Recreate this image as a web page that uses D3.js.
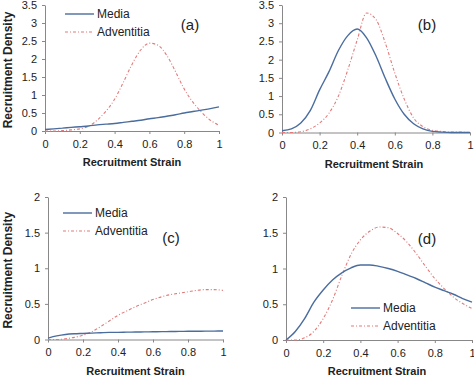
<!doctype html>
<html>
<head>
<meta charset="UTF-8">
<title>Recruitment Density</title>
<script src="https://d3js.org/d3.v7.min.js"></script>
<style>
  body { margin: 0; background: #fff; }
  text { font-family: "Liberation Sans", Arial, sans-serif; fill: #222; }
  .domain { stroke: #888; }
  .tick line { stroke: #888; }
</style>
</head>
<body>
<script>
// strain values (x) shared by all panels
var strain = [0, 0.05, 0.1, 0.15, 0.2, 0.25, 0.3, 0.35, 0.4, 0.45, 0.5,
              0.55, 0.6, 0.65, 0.7, 0.75, 0.8, 0.85, 0.9, 0.95, 1];

var mediaA = [0.04, 0.06, 0.08, 0.10, 0.12, 0.14, 0.17, 0.19, 0.21, 0.24, 0.27,
              0.30, 0.34, 0.37, 0.41, 0.45, 0.50, 0.54, 0.58, 0.62, 0.67];
var adventA = [0, 0, 0.01, 0.03, 0.06, 0.13, 0.30, 0.55, 0.88, 1.35, 1.85,
               2.25, 2.44, 2.38, 2.10, 1.65, 1.17, 0.80, 0.52, 0.30, 0.16];

var mediaB = [0.05, 0.10, 0.26, 0.60, 1.17, 1.67, 2.25, 2.66, 2.84, 2.60, 2.10,
              1.48, 0.92, 0.50, 0.24, 0.10, 0.03, 0.01, 0, 0, 0];
var adventB = [0, 0, 0.02, 0.10, 0.26, 0.53, 1.00, 1.72, 2.54, 3.28, 3.10,
               2.45, 1.63, 0.92, 0.40, 0.16, 0.06, 0.03, 0.01, 0.01, 0];

var mediaC = [0.02, 0.05, 0.07, 0.08, 0.085, 0.09, 0.095, 0.10, 0.10, 0.103, 0.105,
              0.107, 0.108, 0.11, 0.112, 0.114, 0.115, 0.116, 0.117, 0.118, 0.12];
var adventC = [0, 0, 0.01, 0.03, 0.06, 0.11, 0.18, 0.26, 0.34, 0.40, 0.46,
               0.51, 0.56, 0.60, 0.63, 0.65, 0.67, 0.69, 0.70, 0.70, 0.69];

var mediaD = [0, 0.12, 0.30, 0.53, 0.70, 0.84, 0.94, 1.01, 1.05, 1.05, 1.03,
              1.00, 0.96, 0.91, 0.86, 0.80, 0.74, 0.69, 0.64, 0.58, 0.53];
var adventD = [0, 0, 0.03, 0.12, 0.30, 0.56, 0.90, 1.20, 1.40, 1.52, 1.58,
               1.57, 1.49, 1.37, 1.21, 1.03, 0.86, 0.72, 0.60, 0.51, 0.44];

var xTicks = [0, 0.2, 0.4, 0.6, 0.8, 1];
var yTicksTop = [0, 0.5, 1, 1.5, 2, 2.5, 3, 3.5];
var yTicksBottom = [0, 0.5, 1, 1.5, 2];
var seriesNames = ["Media", "Adventitia"];
var panelLabels = ["(a)", "(b)", "(c)", "(d)"];

var mediaColor = "#4a6d9e";
var adventColor = "#e27a7a";
var adventDash = "3,2,1,2";

var svg = d3.select("body").append("svg")
    .attr("width", 474)
    .attr("height", 375);

var panels = [
  { media: mediaA, advent: adventA, label: panelLabels[0], x: [45, 219], y: [131, 5], max: 3.5, ticks: yTicksTop,
    ylabel: true, legend: [65, 14], tag: [190, 25] },
  { media: mediaB, advent: adventB, label: panelLabels[1], x: [282, 470], y: [132.5, 5], max: 3.5, ticks: yTicksTop,
    ylabel: false, legend: null, tag: [427, 25] },
  { media: mediaC, advent: adventC, label: panelLabels[2], x: [48, 223], y: [339.5, 197], max: 2, ticks: yTicksBottom,
    ylabel: true, legend: [63, 213], tag: [171, 238] },
  { media: mediaD, advent: adventD, label: panelLabels[3], x: [286, 472], y: [340, 197], max: 2, ticks: yTicksBottom,
    ylabel: false, legend: [351, 308], tag: [427, 239] }
];

panels.forEach(function (p) {
  var x = d3.scaleLinear().domain([0, 1]).range(p.x);
  var y = d3.scaleLinear().domain([0, p.max]).range(p.y);

  var xAxis = svg.append("g")
      .attr("transform", "translate(0," + p.y[0] + ")")
      .call(d3.axisBottom(x).tickValues(xTicks).tickFormat(d3.format("")).tickSizeInner(3).tickSizeOuter(0).tickPadding(6));
  var yAxis = svg.append("g")
      .attr("transform", "translate(" + p.x[0] + ",0)")
      .call(d3.axisLeft(y).tickValues(p.ticks).tickFormat(d3.format("")).tickSizeInner(3).tickSizeOuter(0).tickPadding(5));
  [xAxis, yAxis].forEach(function (a) {
    a.selectAll("text").style("font-size", "11px").style("font-family", "Liberation Sans, Arial, sans-serif").attr("fill", "#222");
  });

  svg.append("text")
      .attr("x", (p.x[0] + p.x[1]) / 2 + (p.x[0] > 200 ? -2 : 0))
      .attr("y", p.y[0] + 35)
      .attr("text-anchor", "middle")
      .style("font-size", "11px")
      .style("font-weight", "bold")
      .text("Recruitment Strain");

  if (p.ylabel) {
    svg.append("text")
        .attr("transform", "translate(12," + ((p.y[0] + p.y[1]) / 2 + 2) + ") rotate(-90)")
        .attr("text-anchor", "middle")
        .style("font-size", "12px")
        .style("font-weight", "bold")
        .text("Recruitment Density");
  }

  var line = d3.line()
      .x(function (d, i) { return x(strain[i]); })
      .y(function (d) { return y(d); })
      .curve(d3.curveMonotoneX);

  svg.append("path")
      .attr("d", line(p.advent))
      .attr("fill", "none")
      .attr("stroke", adventColor)
      .attr("stroke-width", 1.1)
      .attr("stroke-dasharray", adventDash);
  svg.append("path")
      .attr("d", line(p.media))
      .attr("fill", "none")
      .attr("stroke", mediaColor)
      .attr("stroke-width", 1.4);

  svg.append("text")
      .attr("x", p.tag[0])
      .attr("y", p.tag[1] + 5)
      .attr("text-anchor", "middle")
      .style("font-size", "15px")
      .text(p.label);

  if (p.legend) {
    var lg = svg.append("g").attr("transform", "translate(" + p.legend[0] + "," + p.legend[1] + ")");
    seriesNames.forEach(function (name, i) {
      lg.append("line")
          .attr("x1", 0).attr("x2", 29)
          .attr("y1", i * 18).attr("y2", i * 18)
          .attr("stroke", i === 0 ? mediaColor : adventColor)
          .attr("stroke-width", i === 0 ? 1.4 : 1.1)
          .attr("stroke-dasharray", i === 0 ? null : adventDash);
      lg.append("text")
          .attr("x", 32)
          .attr("y", i * 18 + 4)
          .style("font-size", "12px")
          .text(name);
    });
  }
});
</script>
</body>
</html>
